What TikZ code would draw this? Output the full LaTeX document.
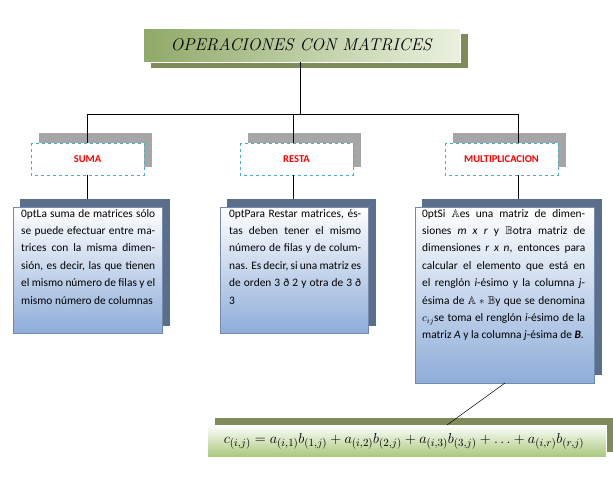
\documentclass[tikz,border=0pt]{standalone}
\usepackage{amssymb}
\usepackage{fontspec}
\setmainfont{Carlito}
\newfontfamily\titlefont{Latin Modern Roman}
\usetikzlibrary{shadings}
\definecolor{bluebot}{HTML}{8EADD9}
\definecolor{slate}{HTML}{5B6E8C}
\definecolor{olive}{HTML}{7F8C5A}
\definecolor{grn}{HTML}{A9C77A}
\definecolor{cyanl}{HTML}{4BACC6}
\tikzset{
  x=1pt,y=-1pt,
  conn/.style={draw=black,line width=0.8pt},
  opbox/.style={draw=cyanl,dashed,fill=white,line width=0.6pt},
  graysh/.style={fill=black!35},
  txtbox/.style={draw=bluebot!80!black,top color=white,bottom color=bluebot,line width=0.4pt},
  bodytext/.style={align=justify,font=\fontsize{11.4}{17.4}\selectfont\hyphenpenalty=10000\exhyphenpenalty=10000,inner sep=0pt,anchor=north west},
  optext/.style={font=\fontsize{10.5}{12}\selectfont\bfseries,text=red},
}
\begin{document}
\begin{tikzpicture}
\useasboundingbox (0,0) rectangle (613,480);
% title
\fill[olive] (151,34) rectangle (468,68);
\shade[left color=grn!85!black,right color=white!75!grn,draw=white] (143,28) rectangle (460,62);
\node (title) at (301,45) {\titlefont\fontsize{17}{19}\selectfont\itshape OPERACIONES CON MATRICES};
\coordinate (tb) at (300,62);
\coordinate (hl) at (87,114); \coordinate (hm) at (300,114); \coordinate (hr) at (518,114);
\draw[conn] (tb) -- (hm); \draw[conn] (hl) -- (hr);
% op boxes
\foreach \x/\n/\t in {31/suma/SUMA,240/resta/RESTA,445/mult/MULTIPLICACION}{
  \fill[graysh] (\x+8,133) rectangle (\x+121,167);
  \draw[opbox] (\x,143) rectangle (\x+113,175);
  \node[optext] (\n) at (\x+56.5,159) {\t};
}
\draw[conn] (87,114) -- (87,143);
\draw[conn] (293,114) -- (293,143);
\draw[conn] (518,114) -- (518,143);
\draw[conn] (87,175) -- (87,207);
\draw[conn] (293,175) -- (293,207);
\draw[conn] (518,175) -- (518,207);
% text boxes
\fill[slate] (20,199) rectangle (170,326);
\draw[txtbox] (13,207) rectangle (162,333);
\node[bodytext,text width=134pt] (sumat) at (21,209) {La suma de matrices sólo se puede efectuar entre matrices con la misma dimensión, es decir, las que tienen el mismo número de filas y el mismo número de columnas\par};
\fill[slate] (227,199) rectangle (376,326);
\draw[txtbox] (220,207) rectangle (368,333);
\node[bodytext,text width=132pt] (restat) at (229,209) {Para Restar matrices, éstas deben tener el mismo número de filas y de columnas. Es decir, si una matriz es de orden 3 ð 2 y otra de 3 ð 3\par};
\fill[slate] (422,199) rectangle (602,375);
\draw[txtbox] (415,207) rectangle (594,383);
\node[bodytext,text width=163pt] (multt) at (422,209) {Si $\Large\mathbb{A}$es una matriz de dimensiones \textit{m x r} y $\Large\mathbb{B}$otra matriz de dimensiones \textit{r x n}, entonces para calcular el elemento que está en el renglón \textit{i}-ésimo y la columna \textit{j}-ésima de $\Large\mathbb{A}*\mathbb{B}$y que se denomina $\large c_{ij}$se toma el renglón \textit{i}-ésimo de la matriz \textit{A} y la columna \textit{j}-ésima de \textbf{\textit{B}}.\par};
% formula
\fill[olive] (215,418) rectangle (613,452);
\shade[top color=white,bottom color=grn,draw=white] (207,425) rectangle (606,457);
\node (form) at (404,441) {\fontsize{15.5}{17}\selectfont $c_{(i,j)}=a_{(i,1)}b_{(1,j)}+a_{(i,2)}b_{(2,j)}+a_{(i,3)}b_{(3,j)}+\dots+a_{(i,r)}b_{(r,j)}$};
\draw[line width=0.5pt] (505,383) -- (447,425);
\end{tikzpicture}
\end{document}
